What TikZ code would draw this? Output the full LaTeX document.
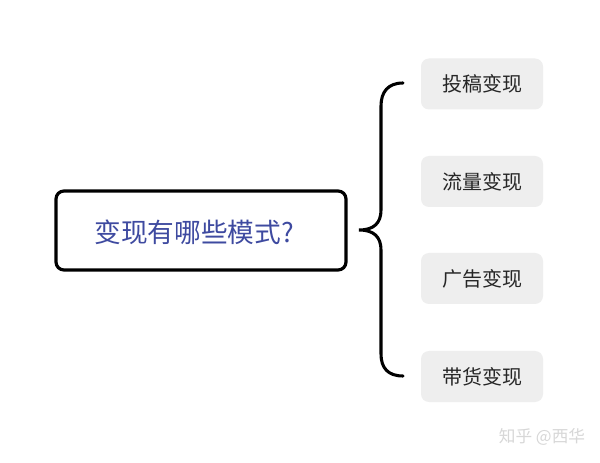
\documentclass[tikz,border=0pt]{standalone}
\usepackage{fontspec}
\setmainfont{Noto Sans CJK SC}
\newfontfamily\cjk{Noto Sans CJK SC}
\definecolor{titleblue}{RGB}{62,74,160}
\definecolor{boxgray}{RGB}{238,238,238}
\definecolor{wmgray}{RGB}{215,215,215}
\begin{document}
\begin{tikzpicture}[x=0.75pt,y=-0.75pt,
  mainbox/.style={draw=black,line width=2.4pt,rounded corners=6pt,fill=white,
    minimum width=290*0.75pt,minimum height=79*0.75pt,inner sep=0pt},
  leafbox/.style={fill=boxgray,rounded corners=6pt,
    minimum width=122*0.75pt,minimum height=51*0.75pt,inner sep=0pt,
    font=\cjk\fontsize{15}{18}\selectfont,text=black!85},
  bracepath/.style={draw=black,line width=2.3pt,line cap=round}]
\useasboundingbox (0,0) rectangle (600,463);
\fill[white] (0,0) rectangle (600,463);
\node[mainbox] (main) at (201,230.5) {};
\node[font=\cjk\fontsize{20}{24}\selectfont,text=titleblue] (maintext) at (194,232) {变现有哪些模式?};
\node[leafbox] (l1) at (482,84) {投稿变现};
\node[leafbox] (l2) at (482,181.5) {流量变现};
\node[leafbox] (l3) at (482,278.5) {广告变现};
\node[leafbox] (l4) at (482,376.5) {带货变现};
\coordinate (bt) at (403,83);
\coordinate (bm) at (359,230);
\coordinate (bb) at (403,376);
\draw[bracepath] (bt) .. controls (388,83) and (381,92) .. (381,106)
  -- (381,210) .. controls (381,223) and (374,230) .. (bm)
  .. controls (374,230) and (381,237) .. (381,250)
  -- (381,354) .. controls (381,368) and (388,376) .. (bb);
\node[font=\cjk\fontsize{12.5}{14}\selectfont,text=wmgray,anchor=center] (wm) at (542,437) {知乎 @西华};
\end{tikzpicture}
\end{document}
